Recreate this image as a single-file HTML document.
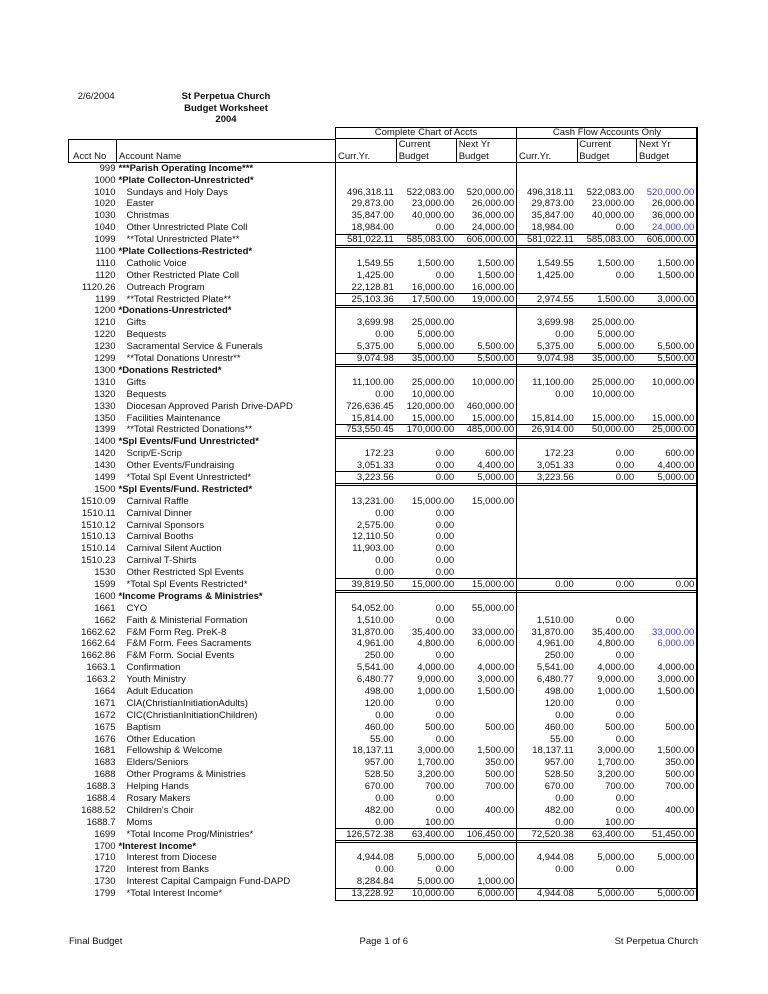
<!DOCTYPE html>
<html>
<head>
<meta charset="utf-8">
<style>
html,body{margin:0;padding:0;background:#fff;}
body{width:768px;height:994px;overflow:hidden;position:relative;font-family:"Liberation Sans",Arial,sans-serif;font-size:9.5px;color:#111;}
.abs{position:absolute;white-space:nowrap;}
.ln{position:absolute;background:#000;}
#rows{position:absolute;left:0;top:162.8px;width:768px;}
.r{position:relative;height:11.9px;line-height:11.9px;white-space:nowrap;}
.r span{position:absolute;top:0;}
.a{left:0;width:115.5px;text-align:right;}
.n{left:126.5px;}
.h .n{left:118.5px;font-weight:bold;}
.c1{left:0;width:393.8px;text-align:right;}
.c2{left:0;width:454.2px;text-align:right;}
.c3{left:0;width:514.2px;text-align:right;}
.c4{left:0;width:573.8px;text-align:right;}
.c5{left:0;width:634.2px;text-align:right;}
.c6{left:0;width:694.3px;text-align:right;}
.bl{color:#3a3aff;}
.t::before{content:"";position:absolute;left:336px;width:361px;top:-0.5px;height:0;border-top:1px solid #000;}
.t::after{content:"";position:absolute;left:336px;width:361px;top:11.2px;height:0;border-top:3px double #000;}
.t2::before{content:"";position:absolute;left:336px;width:361px;top:-0.5px;height:0;border-top:1px solid #000;}
</style>
</head>
<body>

<!-- Titles -->
<div class="abs" style="left:77.7px;top:91px;line-height:12px;">2/6/2004</div>
<div class="abs" style="left:126px;width:200px;text-align:center;top:91px;line-height:11.7px;font-weight:bold;">St Perpetua Church<br>Budget Worksheet<br>2004</div>

<!-- Group header box lines -->
<div class="ln" style="left:335px;top:126.6px;width:363px;height:1.4px;"></div>
<div class="ln" style="left:335px;top:137.8px;width:363px;height:1px;"></div>
<div class="ln" style="left:68px;top:138.6px;width:268px;height:1px;"></div>
<div class="ln" style="left:68px;top:162.2px;width:630px;height:1.1px;"></div>
<div class="ln" style="left:67.6px;top:138.6px;width:1px;height:24.4px;"></div>
<div class="ln" style="left:116.2px;top:138.6px;width:1px;height:24.4px;"></div>
<div class="ln" style="left:395.6px;top:138px;width:1px;height:24.8px;"></div>
<div class="ln" style="left:455.6px;top:138px;width:1px;height:24.8px;"></div>
<div class="ln" style="left:577.2px;top:138px;width:1px;height:24.8px;"></div>
<div class="ln" style="left:636.4px;top:138px;width:1px;height:24.8px;"></div>
<!-- main verticals -->
<div class="ln" style="left:334.9px;top:126.6px;width:1.5px;height:275px;height:774.6px;"></div>
<div class="ln" style="left:515.6px;top:126.6px;width:1.9px;height:774.6px;"></div>
<div class="ln" style="left:696px;top:126.6px;width:1.9px;height:774.6px;"></div>
<!-- bottom -->
<div class="ln" style="left:334.9px;top:899.8px;width:363px;height:1.6px;"></div>

<!-- header texts -->
<div class="abs" style="left:336px;width:180px;text-align:center;top:127.3px;line-height:11px;">Complete Chart of Accts</div>
<div class="abs" style="left:517px;width:180px;text-align:center;top:127.3px;line-height:11px;">Cash Flow Accounts Only</div>
<div class="abs" style="left:73px;top:151px;line-height:12px;">Acct No</div>
<div class="abs" style="left:119px;top:151px;line-height:12px;">Account Name</div>
<div class="abs" style="left:338px;top:151px;line-height:12px;">Curr.Yr.</div>
<div class="abs" style="left:398.7px;top:139px;line-height:12px;">Current<br>Budget</div>
<div class="abs" style="left:458.7px;top:139px;line-height:12px;">Next Yr<br>Budget</div>
<div class="abs" style="left:519px;top:151px;line-height:12px;">Curr.Yr.</div>
<div class="abs" style="left:579.3px;top:139px;line-height:12px;">Current<br>Budget</div>
<div class="abs" style="left:639px;top:139px;line-height:12px;">Next Yr<br>Budget</div>

<div id="rows">
<div class="r h"><span class="a">999</span><span class="n">***Parish Operating Income***</span></div>
<div class="r h"><span class="a">1000</span><span class="n">*Plate Collecton-Unrestricted*</span></div>
<div class="r"><span class="a">1010</span><span class="n">Sundays and Holy Days</span><span class="c1">496,318.11</span><span class="c2">522,083.00</span><span class="c3">520,000.00</span><span class="c4">496,318.11</span><span class="c5">522,083.00</span><span class="c6 bl">520,000.00</span></div>
<div class="r"><span class="a">1020</span><span class="n">Easter</span><span class="c1">29,873.00</span><span class="c2">23,000.00</span><span class="c3">26,000.00</span><span class="c4">29,873.00</span><span class="c5">23,000.00</span><span class="c6">26,000.00</span></div>
<div class="r"><span class="a">1030</span><span class="n">Christmas</span><span class="c1">35,847.00</span><span class="c2">40,000.00</span><span class="c3">36,000.00</span><span class="c4">35,847.00</span><span class="c5">40,000.00</span><span class="c6">36,000.00</span></div>
<div class="r"><span class="a">1040</span><span class="n">Other Unrestricted Plate Coll</span><span class="c1">18,984.00</span><span class="c2">0.00</span><span class="c3">24,000.00</span><span class="c4">18,984.00</span><span class="c5">0.00</span><span class="c6 bl">24,000.00</span></div>
<div class="r t"><span class="a">1099</span><span class="n">**Total Unrestricted Plate**</span><span class="c1">581,022.11</span><span class="c2">585,083.00</span><span class="c3">606,000.00</span><span class="c4">581,022.11</span><span class="c5">585,083.00</span><span class="c6">606,000.00</span></div>
<div class="r h"><span class="a">1100</span><span class="n">*Plate Collections-Restricted*</span></div>
<div class="r"><span class="a">1110</span><span class="n">Catholic Voice</span><span class="c1">1,549.55</span><span class="c2">1,500.00</span><span class="c3">1,500.00</span><span class="c4">1,549.55</span><span class="c5">1,500.00</span><span class="c6">1,500.00</span></div>
<div class="r"><span class="a">1120</span><span class="n">Other Restricted Plate Coll</span><span class="c1">1,425.00</span><span class="c2">0.00</span><span class="c3">1,500.00</span><span class="c4">1,425.00</span><span class="c5">0.00</span><span class="c6">1,500.00</span></div>
<div class="r"><span class="a">1120.26</span><span class="n">Outreach Program</span><span class="c1">22,128.81</span><span class="c2">16,000.00</span><span class="c3">16,000.00</span></div>
<div class="r t"><span class="a">1199</span><span class="n">**Total Restricted Plate**</span><span class="c1">25,103.36</span><span class="c2">17,500.00</span><span class="c3">19,000.00</span><span class="c4">2,974.55</span><span class="c5">1,500.00</span><span class="c6">3,000.00</span></div>
<div class="r h"><span class="a">1200</span><span class="n">*Donations-Unrestricted*</span></div>
<div class="r"><span class="a">1210</span><span class="n">Gifts</span><span class="c1">3,699.98</span><span class="c2">25,000.00</span><span class="c4">3,699.98</span><span class="c5">25,000.00</span></div>
<div class="r"><span class="a">1220</span><span class="n">Bequests</span><span class="c1">0.00</span><span class="c2">5,000.00</span><span class="c4">0.00</span><span class="c5">5,000.00</span></div>
<div class="r"><span class="a">1230</span><span class="n">Sacramental Service &amp; Funerals</span><span class="c1">5,375.00</span><span class="c2">5,000.00</span><span class="c3">5,500.00</span><span class="c4">5,375.00</span><span class="c5">5,000.00</span><span class="c6">5,500.00</span></div>
<div class="r t"><span class="a">1299</span><span class="n">**Total Donations Unrestr**</span><span class="c1">9,074.98</span><span class="c2">35,000.00</span><span class="c3">5,500.00</span><span class="c4">9,074.98</span><span class="c5">35,000.00</span><span class="c6">5,500.00</span></div>
<div class="r h"><span class="a">1300</span><span class="n">*Donations Restricted*</span></div>
<div class="r"><span class="a">1310</span><span class="n">Gifts</span><span class="c1">11,100.00</span><span class="c2">25,000.00</span><span class="c3">10,000.00</span><span class="c4">11,100.00</span><span class="c5">25,000.00</span><span class="c6">10,000.00</span></div>
<div class="r"><span class="a">1320</span><span class="n">Bequests</span><span class="c1">0.00</span><span class="c2">10,000.00</span><span class="c4">0.00</span><span class="c5">10,000.00</span></div>
<div class="r"><span class="a">1330</span><span class="n">Diocesan Approved Parish Drive-DAPD</span><span class="c1">726,636.45</span><span class="c2">120,000.00</span><span class="c3">460,000.00</span></div>
<div class="r"><span class="a">1350</span><span class="n">Facilities Maintenance</span><span class="c1">15,814.00</span><span class="c2">15,000.00</span><span class="c3">15,000.00</span><span class="c4">15,814.00</span><span class="c5">15,000.00</span><span class="c6">15,000.00</span></div>
<div class="r t"><span class="a">1399</span><span class="n">**Total Restricted Donations**</span><span class="c1">753,550.45</span><span class="c2">170,000.00</span><span class="c3">485,000.00</span><span class="c4">26,914.00</span><span class="c5">50,000.00</span><span class="c6">25,000.00</span></div>
<div class="r h"><span class="a">1400</span><span class="n">*Spl Events/Fund Unrestricted*</span></div>
<div class="r"><span class="a">1420</span><span class="n">Scrip/E-Scrip</span><span class="c1">172.23</span><span class="c2">0.00</span><span class="c3">600.00</span><span class="c4">172.23</span><span class="c5">0.00</span><span class="c6">600.00</span></div>
<div class="r"><span class="a">1430</span><span class="n">Other Events/Fundraising</span><span class="c1">3,051.33</span><span class="c2">0.00</span><span class="c3">4,400.00</span><span class="c4">3,051.33</span><span class="c5">0.00</span><span class="c6">4,400.00</span></div>
<div class="r t"><span class="a">1499</span><span class="n">*Total Spl Event Unrestricted*</span><span class="c1">3,223.56</span><span class="c2">0.00</span><span class="c3">5,000.00</span><span class="c4">3,223.56</span><span class="c5">0.00</span><span class="c6">5,000.00</span></div>
<div class="r h"><span class="a">1500</span><span class="n">*Spl Events/Fund. Restricted*</span></div>
<div class="r"><span class="a">1510.09</span><span class="n">Carnival Raffle</span><span class="c1">13,231.00</span><span class="c2">15,000.00</span><span class="c3">15,000.00</span></div>
<div class="r"><span class="a">1510.11</span><span class="n">Carnival Dinner</span><span class="c1">0.00</span><span class="c2">0.00</span></div>
<div class="r"><span class="a">1510.12</span><span class="n">Carnival Sponsors</span><span class="c1">2,575.00</span><span class="c2">0.00</span></div>
<div class="r"><span class="a">1510.13</span><span class="n">Carnival Booths</span><span class="c1">12,110.50</span><span class="c2">0.00</span></div>
<div class="r"><span class="a">1510.14</span><span class="n">Carnival Silent Auction</span><span class="c1">11,903.00</span><span class="c2">0.00</span></div>
<div class="r"><span class="a">1510.23</span><span class="n">Carnival T-Shirts</span><span class="c1">0.00</span><span class="c2">0.00</span></div>
<div class="r"><span class="a">1530</span><span class="n">Other Restricted Spl Events</span><span class="c1">0.00</span><span class="c2">0.00</span></div>
<div class="r t"><span class="a">1599</span><span class="n">*Total Spl Events Restricted*</span><span class="c1">39,819.50</span><span class="c2">15,000.00</span><span class="c3">15,000.00</span><span class="c4">0.00</span><span class="c5">0.00</span><span class="c6">0.00</span></div>
<div class="r h"><span class="a">1600</span><span class="n">*Income Programs &amp; Ministries*</span></div>
<div class="r"><span class="a">1661</span><span class="n">CYO</span><span class="c1">54,052.00</span><span class="c2">0.00</span><span class="c3">55,000.00</span></div>
<div class="r"><span class="a">1662</span><span class="n">Faith &amp; Ministerial Formation</span><span class="c1">1,510.00</span><span class="c2">0.00</span><span class="c4">1,510.00</span><span class="c5">0.00</span></div>
<div class="r"><span class="a">1662.62</span><span class="n">F&amp;M Form Reg. PreK-8</span><span class="c1">31,870.00</span><span class="c2">35,400.00</span><span class="c3">33,000.00</span><span class="c4">31,870.00</span><span class="c5">35,400.00</span><span class="c6 bl">33,000.00</span></div>
<div class="r"><span class="a">1662.64</span><span class="n">F&amp;M Form. Fees Sacraments</span><span class="c1">4,961.00</span><span class="c2">4,800.00</span><span class="c3">6,000.00</span><span class="c4">4,961.00</span><span class="c5">4,800.00</span><span class="c6 bl">6,000.00</span></div>
<div class="r"><span class="a">1662.86</span><span class="n">F&amp;M Form. Social Events</span><span class="c1">250.00</span><span class="c2">0.00</span><span class="c4">250.00</span><span class="c5">0.00</span></div>
<div class="r"><span class="a">1663.1</span><span class="n">Confirmation</span><span class="c1">5,541.00</span><span class="c2">4,000.00</span><span class="c3">4,000.00</span><span class="c4">5,541.00</span><span class="c5">4,000.00</span><span class="c6">4,000.00</span></div>
<div class="r"><span class="a">1663.2</span><span class="n">Youth Ministry</span><span class="c1">6,480.77</span><span class="c2">9,000.00</span><span class="c3">3,000.00</span><span class="c4">6,480.77</span><span class="c5">9,000.00</span><span class="c6">3,000.00</span></div>
<div class="r"><span class="a">1664</span><span class="n">Adult Education</span><span class="c1">498.00</span><span class="c2">1,000.00</span><span class="c3">1,500.00</span><span class="c4">498.00</span><span class="c5">1,000.00</span><span class="c6">1,500.00</span></div>
<div class="r"><span class="a">1671</span><span class="n">CIA(ChristianInitiationAdults)</span><span class="c1">120.00</span><span class="c2">0.00</span><span class="c4">120.00</span><span class="c5">0.00</span></div>
<div class="r"><span class="a">1672</span><span class="n">CIC(ChristianInitiationChildren)</span><span class="c1">0.00</span><span class="c2">0.00</span><span class="c4">0.00</span><span class="c5">0.00</span></div>
<div class="r"><span class="a">1675</span><span class="n">Baptism</span><span class="c1">460.00</span><span class="c2">500.00</span><span class="c3">500.00</span><span class="c4">460.00</span><span class="c5">500.00</span><span class="c6">500.00</span></div>
<div class="r"><span class="a">1676</span><span class="n">Other Education</span><span class="c1">55.00</span><span class="c2">0.00</span><span class="c4">55.00</span><span class="c5">0.00</span></div>
<div class="r"><span class="a">1681</span><span class="n">Fellowship &amp; Welcome</span><span class="c1">18,137.11</span><span class="c2">3,000.00</span><span class="c3">1,500.00</span><span class="c4">18,137.11</span><span class="c5">3,000.00</span><span class="c6">1,500.00</span></div>
<div class="r"><span class="a">1683</span><span class="n">Elders/Seniors</span><span class="c1">957.00</span><span class="c2">1,700.00</span><span class="c3">350.00</span><span class="c4">957.00</span><span class="c5">1,700.00</span><span class="c6">350.00</span></div>
<div class="r"><span class="a">1688</span><span class="n">Other Programs &amp; Ministries</span><span class="c1">528.50</span><span class="c2">3,200.00</span><span class="c3">500.00</span><span class="c4">528.50</span><span class="c5">3,200.00</span><span class="c6">500.00</span></div>
<div class="r"><span class="a">1688.3</span><span class="n">Helping Hands</span><span class="c1">670.00</span><span class="c2">700.00</span><span class="c3">700.00</span><span class="c4">670.00</span><span class="c5">700.00</span><span class="c6">700.00</span></div>
<div class="r"><span class="a">1688.4</span><span class="n">Rosary Makers</span><span class="c1">0.00</span><span class="c2">0.00</span><span class="c4">0.00</span><span class="c5">0.00</span></div>
<div class="r"><span class="a">1688.52</span><span class="n">Children's Choir</span><span class="c1">482.00</span><span class="c2">0.00</span><span class="c3">400.00</span><span class="c4">482.00</span><span class="c5">0.00</span><span class="c6">400.00</span></div>
<div class="r"><span class="a">1688.7</span><span class="n">Moms</span><span class="c1">0.00</span><span class="c2">100.00</span><span class="c4">0.00</span><span class="c5">100.00</span></div>
<div class="r t"><span class="a">1699</span><span class="n">*Total Income Prog/Ministries*</span><span class="c1">126,572.38</span><span class="c2">63,400.00</span><span class="c3">106,450.00</span><span class="c4">72,520.38</span><span class="c5">63,400.00</span><span class="c6">51,450.00</span></div>
<div class="r h"><span class="a">1700</span><span class="n">*Interest Income*</span></div>
<div class="r"><span class="a">1710</span><span class="n">Interest from Diocese</span><span class="c1">4,944.08</span><span class="c2">5,000.00</span><span class="c3">5,000.00</span><span class="c4">4,944.08</span><span class="c5">5,000.00</span><span class="c6">5,000.00</span></div>
<div class="r"><span class="a">1720</span><span class="n">Interest from Banks</span><span class="c1">0.00</span><span class="c2">0.00</span><span class="c4">0.00</span><span class="c5">0.00</span></div>
<div class="r"><span class="a">1730</span><span class="n">Interest Capital Campaign Fund-DAPD</span><span class="c1">8,284.84</span><span class="c2">5,000.00</span><span class="c3">1,000.00</span></div>
<div class="r t2"><span class="a">1799</span><span class="n">*Total Interest Income*</span><span class="c1">13,228.92</span><span class="c2">10,000.00</span><span class="c3">6,000.00</span><span class="c4">4,944.08</span><span class="c5">5,000.00</span><span class="c6">5,000.00</span></div>
</div>

<!-- footer -->
<div class="abs" style="left:69px;top:936px;line-height:12px;">Final Budget</div>
<div class="abs" style="left:359.5px;top:936px;line-height:12px;">Page 1 of 6</div>
<div class="abs" style="left:498px;width:200px;text-align:right;top:936px;line-height:12px;">St Perpetua Church</div>

</body>
</html>
